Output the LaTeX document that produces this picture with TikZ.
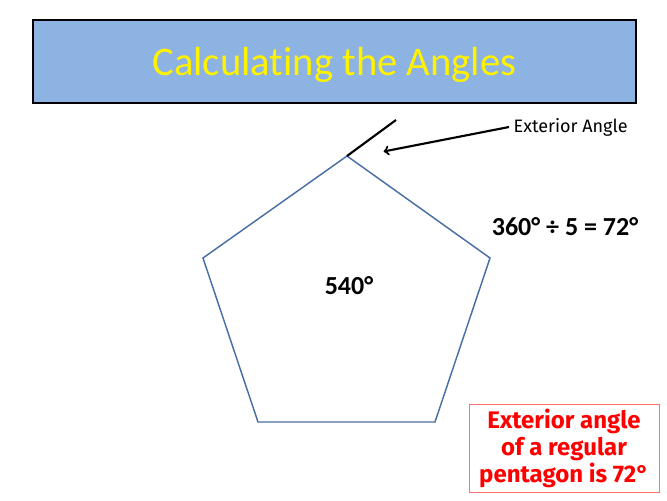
\documentclass[tikz,border=0pt]{standalone}
\usepackage{fontspec}
\setmainfont{Carlito}[Ligatures=NoCommon]
\newfontfamily\comicfont{Fira Sans}
\usetikzlibrary{calc}
\usetikzlibrary{arrows}
\usetikzlibrary{positioning}
\definecolor{titleblue}{HTML}{8DB3E2}
\definecolor{edgeblue}{HTML}{4A6FA5}
\tikzset{titlebox/.style={rectangle,fill=titleblue,draw=black,line width=1pt}}
\tikzset{notebox/.style={rectangle,draw=red!55,line width=0.6pt,text=red,align=center}}
\tikzset{side/.style={draw=edgeblue,line width=1.1pt}}

\begin{document}
\begin{tikzpicture}[x=0.75pt,y=-0.75pt]
\useasboundingbox (0,0) rectangle (667,500);
\node[titlebox, minimum width=603*0.75pt, minimum height=83*0.75pt] (title) at (334.5,61.5) {};
\node[text=yellow, font=\fontsize{30.5}{34}\selectfont] at ($(title)+(0,3)$) {Calculating the Angles};

\coordinate (A) at (347,156);
\coordinate (B) at (490,258);
\coordinate (C) at (435,422);
\coordinate (D) at (258,422);
\coordinate (E) at (203,258);
 \draw[side] (A) -- (B) -- (C) -- (D) -- (E) -- cycle;
\coordinate (ext) at (396,120);
 \draw[line width=1.6pt] (A) -- (ext);

\node[font=\comicfont\fontsize{13.5}{16}\selectfont, anchor=west] (label) at (509,127) {Exterior Angle};
 \draw[->, line width=1.6pt, shorten >=2pt] (label.west) -- (381,152);

\node[font=\bfseries\fontsize{19.5}{23}\selectfont] (sum) at (565,227) {360° ÷ 5 = 72°};
\node[font=\bfseries\fontsize{19.5}{23}\selectfont] (inner) at (349,286) {540°};

\node[notebox, font=\comicfont\bfseries\fontsize{18}{20.5}\selectfont, minimum width=190*0.75pt, minimum height=87*0.75pt] (note) at (564,448.5) {Exterior angle\\of a regular\\pentagon is 72°};
\end{tikzpicture}
\end{document}
